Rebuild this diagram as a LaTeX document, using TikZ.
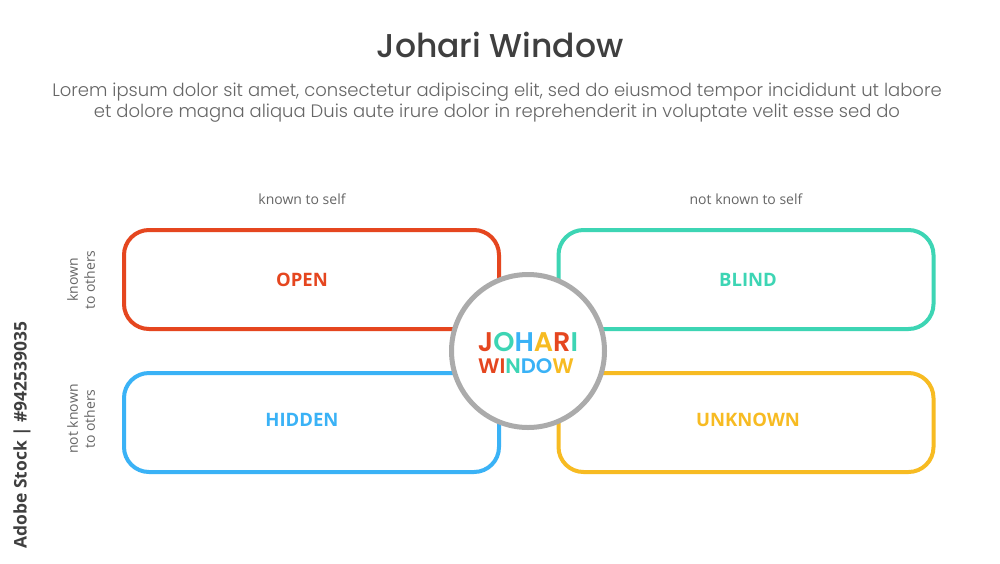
\documentclass[tikz,border=0pt]{standalone}
\usepackage{fontspec}
\setmainfont{Open Sans}
\newfontfamily\poppins{Poppins}
\newfontfamily\poppinsmed{Poppins}[UprightFont=* Medium, BoldFont=* SemiBold]
\newfontfamily\poppinslight{Poppins}[UprightFont=* Light]
\usetikzlibrary{positioning}

\definecolor{openred}{HTML}{E5461F}
\definecolor{blindteal}{HTML}{3DD5B4}
\definecolor{hiddenblue}{HTML}{3AB2F6}
\definecolor{unknownyellow}{HTML}{F7BB22}
\definecolor{ringgray}{HTML}{ABABAB}
\definecolor{titlegray}{HTML}{3F3F3F}
\definecolor{textgray}{HTML}{666666}

\begin{document}
\begin{tikzpicture}[x=1pt, y=-1pt,
    quad/.style={draw=#1, line width=4pt, rounded corners=25pt, minimum width=375pt, minimum height=99pt, inner sep=0pt},
    qlabel/.style={text=#1, inner sep=0pt, font=\bfseries\fontsize{18.5}{22}\selectfont},
    side/.style={text=textgray, inner sep=0pt, align=center, font=\fontsize{14}{17}\selectfont},
]
    \useasboundingbox[fill=white] (0,0) rectangle (1000,563);

    % Title and text
    \node[anchor=base, text=titlegray, font=\poppinsmed\fontsize{33}{36}\selectfont] (title) at (500,57) {Johari Window};
    \node[anchor=base, text=textgray, font=\poppinslight\fontsize{18}{21}\selectfont] (lorem1) at (497,96) {Lorem ipsum dolor sit amet, consectetur adipiscing elit, sed do eiusmod tempor incididunt ut labore};
    \node[anchor=base, text=textgray, font=\poppinslight\fontsize{18}{21}\selectfont] (lorem2) at (497,117) {et dolore magna aliqua Duis aute irure dolor in reprehenderit in voluptate velit esse sed do};

    % Four quadrants
    \node[quad=openred] (open) at (311.5,279.5) {};
    \node[quad=blindteal] (blind) at (746,279.5) {};
    \node[quad=hiddenblue] (hidden) at (311.5,422.5) {};
    \node[quad=unknownyellow] (unknown) at (746,422.5) {};

    % Quadrant labels
    \node[qlabel=openred] (openlbl) at ([xshift=-9.5pt]open.center) {OPEN};
    \node[qlabel=blindteal] (blindlbl) at ([xshift=2pt]blind.center) {BLIND};
    \node[qlabel=hiddenblue] (hiddenlbl) at ([xshift=-9.5pt,yshift=3pt]hidden.center) {HIDDEN};
    \node[qlabel=unknownyellow] (unknownlbl) at ([xshift=2pt,yshift=3pt]unknown.center) {UNKNOWN};

    % Axis labels
    \node[side, anchor=base] (self) at (302,204) {known to self};
    \node[side, anchor=base] (notself) at (746,204) {not known to self};
    \node[side, rotate=90] (others) at (81,280) {known\\to others};
    \node[side, rotate=90] (notothers) at (81,419) {not known\\to others};

    % Center circle
    \node[circle, draw=ringgray, line width=5pt, fill=white, minimum size=153pt, inner sep=0pt] (hub) at (528,351) {};
    \node[anchor=base, inner sep=0pt, font=\poppinsmed\bfseries\fontsize{27}{29}\selectfont] (johari) at (528,351)
        {\textcolor{openred}{J}\textcolor{blindteal}{O}\textcolor{hiddenblue}{H}\textcolor{unknownyellow}{A}\textcolor{openred}{R}\textcolor{blindteal}{I}};
    \node[anchor=base, inner sep=0pt, font=\poppinsmed\bfseries\fontsize{21}{24}\selectfont] (window) at (526,373)
        {\textcolor{openred}{WI}\textcolor{blindteal}{N}\textcolor{hiddenblue}{DO}\textcolor{unknownyellow}{W}};

    % Stock mark
    \node[rotate=90, text=titlegray, inner sep=0pt, font=\bfseries\fontsize{17.4}{19}\selectfont] (stock) at (22,435) {Adobe Stock | \#942539035};
\end{tikzpicture}
\end{document}
